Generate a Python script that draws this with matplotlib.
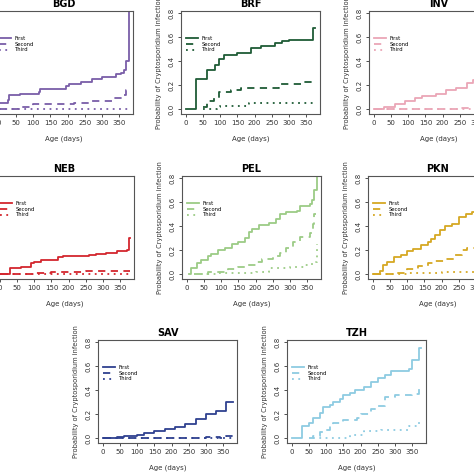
import matplotlib
matplotlib.use("Agg")
import matplotlib.pyplot as plt

sites = ["BGD", "BRF", "INV", "NEB", "PEL", "PKN", "SAV", "TZH"]
colors = ["#7a5ea8", "#1f5c36", "#eaa6b6", "#d3262e", "#9ccc86", "#d6a823", "#2f4190", "#8ecbe2"]

bgd_first_d = [0, 25, 30, 60, 115, 120, 175, 195, 205, 240, 270, 300, 340, 355, 365, 372, 380]
bgd_first_v = [0.05, 0.08, 0.12, 0.13, 0.14, 0.165, 0.17, 0.19, 0.21, 0.23, 0.25, 0.27, 0.29, 0.30, 0.33, 0.40, 0.85]
bgd_second_d = [0, 55, 100, 200, 220, 270, 330, 365, 370, 380]
bgd_second_v = [0.0, 0.02, 0.04, 0.04, 0.05, 0.07, 0.09, 0.12, 0.16, 0.16]
bgd_third_d = [0, 380]
bgd_third_v = [0.0, 0.0]

brf_first_d = [0, 28, 60, 85, 95, 110, 150, 190, 220, 260, 280, 300, 370, 375]
brf_first_v = [0.0, 0.25, 0.33, 0.37, 0.42, 0.45, 0.47, 0.51, 0.53, 0.55, 0.57, 0.58, 0.68, 0.68]
brf_second_d = [50, 60, 80, 95, 130, 160, 270, 275, 345, 375]
brf_second_v = [0.02, 0.07, 0.09, 0.14, 0.16, 0.18, 0.19, 0.21, 0.23, 0.23]
brf_third_d = [50, 90, 100, 185, 375]
brf_third_v = [0.0, 0.02, 0.03, 0.05, 0.05]

inv_first_d = [0, 30, 60, 90, 120, 140, 180, 210, 240, 270, 290, 330, 360, 380]
inv_first_v = [0.0, 0.02, 0.04, 0.07, 0.09, 0.11, 0.13, 0.16, 0.18, 0.22, 0.24, 0.26, 0.28, 0.28]
inv_second_d = [0, 250, 380]
inv_second_v = [0.0, 0.01, 0.01]
inv_third_d = [0, 380]
inv_third_v = [0.0, 0.0]

neb_first_d = [0, 28, 60, 90, 100, 120, 170, 185, 260, 280, 310, 340, 370, 375, 380]
neb_first_v = [0.0, 0.05, 0.06, 0.09, 0.10, 0.12, 0.14, 0.15, 0.16, 0.17, 0.18, 0.19, 0.20, 0.30, 0.30]
neb_second_d = [0, 100, 150, 250, 380]
neb_second_v = [0.0, 0.01, 0.02, 0.03, 0.03]
neb_third_d = [0, 380]
neb_third_v = [0.0, 0.0]

pel_first_d = [5, 10, 30, 40, 60, 70, 90, 110, 130, 150, 170, 180, 190, 210, 240, 260, 270, 290, 320, 330, 360, 365, 370, 378]
pel_first_v = [0.0, 0.05, 0.09, 0.12, 0.15, 0.17, 0.20, 0.22, 0.25, 0.27, 0.30, 0.35, 0.38, 0.41, 0.43, 0.46, 0.50, 0.52, 0.53, 0.57, 0.59, 0.62, 0.70, 0.82]
pel_second_d = [20, 60, 120, 150, 170, 200, 220, 250, 270, 290, 310, 330, 360, 368, 372, 375]
pel_second_v = [0.0, 0.02, 0.04, 0.06, 0.08, 0.10, 0.13, 0.15, 0.18, 0.22, 0.27, 0.31, 0.34, 0.42, 0.50, 0.50]
pel_third_d = [40, 90, 200, 240, 300, 340, 365, 378]
pel_third_v = [0.0, 0.01, 0.02, 0.05, 0.06, 0.08, 0.10, 0.25]

pkn_first_d = [0, 20, 30, 40, 60, 80, 100, 115, 140, 160, 170, 180, 195, 210, 230, 250, 270, 290, 330, 360, 380]
pkn_first_v = [0.0, 0.03, 0.08, 0.10, 0.14, 0.16, 0.19, 0.21, 0.24, 0.27, 0.29, 0.33, 0.37, 0.40, 0.42, 0.48, 0.50, 0.52, 0.55, 0.60, 0.60]
pkn_second_d = [0, 70, 100, 130, 160, 180, 210, 240, 260, 275, 320, 360, 380]
pkn_second_v = [0.0, 0.01, 0.04, 0.07, 0.09, 0.11, 0.13, 0.16, 0.20, 0.22, 0.25, 0.30, 0.30]
pkn_third_d = [0, 100, 200, 380]
pkn_third_v = [0.0, 0.01, 0.02, 0.02]

sav_first_d = [0, 30, 40, 60, 100, 120, 150, 180, 210, 240, 270, 300, 330, 360, 380]
sav_first_v = [0.0, 0.005, 0.01, 0.02, 0.025, 0.04, 0.06, 0.08, 0.09, 0.12, 0.16, 0.20, 0.23, 0.30, 0.30]
sav_second_d = [0, 300, 340, 360, 380]
sav_second_v = [0.0, 0.01, 0.005, 0.02, 0.02]
sav_third_d = [0, 380]
sav_third_v = [0.0, 0.0]

tzh_first_d = [0, 28, 50, 60, 80, 90, 110, 120, 140, 150, 170, 185, 210, 230, 250, 270, 290, 340, 350, 370, 375]
tzh_first_v = [0.0, 0.10, 0.13, 0.17, 0.21, 0.26, 0.28, 0.30, 0.33, 0.36, 0.38, 0.40, 0.43, 0.47, 0.50, 0.53, 0.56, 0.58, 0.65, 0.75, 0.75]
tzh_second_d = [50, 60, 80, 90, 110, 120, 150, 190, 200, 230, 250, 270, 300, 350, 370, 375]
tzh_second_v = [0.0, 0.02, 0.05, 0.07, 0.10, 0.13, 0.15, 0.17, 0.20, 0.24, 0.27, 0.34, 0.36, 0.37, 0.42, 0.42]
tzh_third_d = [60, 170, 210, 260, 340, 370, 375]
tzh_third_v = [0.0, 0.03, 0.06, 0.07, 0.10, 0.14, 0.14]

series = {
    "BGD": [(bgd_first_d, bgd_first_v), (bgd_second_d, bgd_second_v), (bgd_third_d, bgd_third_v)],
    "BRF": [(brf_first_d, brf_first_v), (brf_second_d, brf_second_v), (brf_third_d, brf_third_v)],
    "INV": [(inv_first_d, inv_first_v), (inv_second_d, inv_second_v), (inv_third_d, inv_third_v)],
    "NEB": [(neb_first_d, neb_first_v), (neb_second_d, neb_second_v), (neb_third_d, neb_third_v)],
    "PEL": [(pel_first_d, pel_first_v), (pel_second_d, pel_second_v), (pel_third_d, pel_third_v)],
    "PKN": [(pkn_first_d, pkn_first_v), (pkn_second_d, pkn_second_v), (pkn_third_d, pkn_third_v)],
    "SAV": [(sav_first_d, sav_first_v), (sav_second_d, sav_second_v), (sav_third_d, sav_third_v)],
    "TZH": [(tzh_first_d, tzh_first_v), (tzh_second_d, tzh_second_v), (tzh_third_d, tzh_third_v)],
}
labels = ["First", "Second", "Third"]
styles = ["-", (0, (4, 3)), (0, (1, 2.5))]

# panel boxes in pixels: left, top
W, H = 474, 474
pw, ph = 139, 103
boxes = {"BGD": (-6, 11), "BRF": (181, 11), "INV": (369, 11),
         "NEB": (-5, 176), "PEL": (182, 176), "PKN": (368, 176),
         "SAV": (98, 340), "TZH": (287, 340)}

fig = plt.figure(figsize=(W / 100, H / 100), dpi=100)
fig.patch.set_facecolor("white")
for site, col in zip(sites, colors):
    l, t = boxes[site]
    ax = fig.add_axes([l / W, 1 - (t + ph) / H, pw / W, ph / H])
    for (d, v), lab, ls in zip(series[site], labels, styles):
        ax.step(d, v, where="post", color=col, lw=1.3, ls=ls, label=lab)
    ax.set_xlim(-15, 391)
    ax.set_ylim(-0.04, 0.82)
    ax.set_xticks(range(0, 351, 50))
    ax.set_yticks([0, 0.2, 0.4, 0.6, 0.8])
    ax.set_yticklabels(["0.0", "0.2", "0.4", "0.6", "0.8"], rotation=90, va="center")
    ax.tick_params(labelsize=5, length=2.5, width=0.6, pad=2, colors="#333333")
    for s in ax.spines.values():
        s.set_linewidth(0.8)
        s.set_color("#555555")
    ax.set_title(site, fontsize=7, fontweight="bold", pad=3)
    ax.set_xlabel("Age (days)", fontsize=5, labelpad=7, color="#333333")
    ax.set_ylabel("Probability of Cryptosporidium infection", fontsize=4.8, labelpad=5, color="#333333")
    ax.legend(loc="upper left", bbox_to_anchor=(0.02, 0.78), frameon=False, fontsize=3.8,
              handlelength=2.2, labelspacing=0.15, handletextpad=0.8, borderaxespad=0)

fig.savefig("out.png", dpi=100, facecolor="white")
